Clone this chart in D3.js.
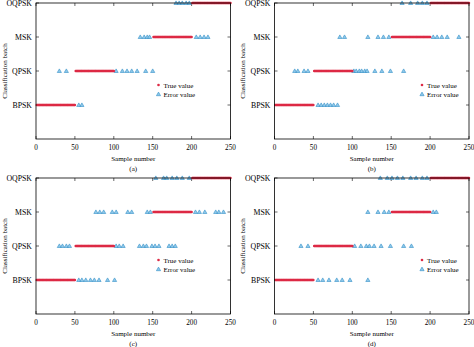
<!DOCTYPE html>
<html>
<head>
<meta charset="utf-8">
<script src="https://cdn.jsdelivr.net/npm/d3@7"></script>
<style>
  body { margin: 0; background: #fff; }
  svg { display: block; font-family: "Liberation Serif", "Times New Roman", serif; }
</style>
</head>
<body>
<svg id="chart" width="474" height="347"></svg>
<script>
// classes on the y axis, bottom to top
const classes = ["BPSK", "QPSK", "MSK", "OQPSK"];
const xTicks = [0, 50, 100, 150, 200, 250];

// correctly classified runs: [first sample, last sample, class]
const trueRuns = [[1, 50, "BPSK"], [51, 100, "QPSK"], [151, 200, "MSK"], [201, 250, "OQPSK"]];

// misclassified samples per panel
const errorsA = {
    BPSK: [55, 59],
    QPSK: [30, 39, 103, 111, 117, 123, 130, 141, 150],
    MSK: [134, 139, 143, 146, 206, 211, 216, 221],
    OQPSK: [180, 184, 188, 193, 197]
};
const errorsB = {
    BPSK: [56, 60, 64, 68, 72, 76, 81],
    QPSK: [26, 30, 38, 43, 102, 105, 109, 112, 116, 119, 129, 138, 149, 166],
    MSK: [84, 90, 120, 133, 140, 147, 204, 209, 215, 222, 237],
    OQPSK: [164, 175, 184, 190, 196]
};
const errorsC = {
    BPSK: [55, 59, 64, 70, 75, 81, 92, 101],
    QPSK: [30, 34, 39, 43, 103, 107, 112, 133, 138, 142, 149, 153, 158, 171, 175, 179],
    MSK: [77, 82, 87, 98, 103, 118, 123, 143, 147, 205, 210, 217, 231, 235, 241],
    OQPSK: [154, 164, 168, 175, 181, 188, 197]
};
const errorsD = {
    BPSK: [56, 62, 70, 80, 87, 97, 120],
    QPSK: [34, 43, 103, 111, 118, 122, 128, 137, 149, 166, 176],
    MSK: [120, 133, 141, 147, 204, 208],
    OQPSK: [136, 145, 151, 158, 165, 175, 182, 190, 196]
};

const legendLabels = ["True value", "Error value"];
const captions = ["(a)", "(b)", "(c)", "(d)"];

// panel layout
const panels = [
    { errors: errorsA, x0: 36, x1: 230.5, top: 3, bottom: 139, yl: 6.5, legX: 158.5 },
    { errors: errorsB, x0: 274.5, x1: 469, top: 3, bottom: 139, yl: 245, legX: 422 },
    { errors: errorsC, x0: 36, x1: 230.5, top: 178, bottom: 314, yl: 6.5, legX: 158.5 },
    { errors: errorsD, x0: 274.5, x1: 469, top: 178, bottom: 314, yl: 245, legX: 422 }
];

const red = "#dd2a45";
const blueFill = "#8ec8ea";
const blueStroke = "#3490c8";

const svg = d3.select("svg#chart");
const triangle = d3.symbol().type(d3.symbolTriangle).size(7.5);

const truePoints = trueRuns.flatMap(([a, b, c]) => d3.range(a, b + 1).map(s => ({ s, c })));

panels.forEach((p, i) => {
    const x = d3.scaleLinear().domain([0, 250]).range([p.x0, p.x1]);
    const y = d3.scaleLinear().domain([0, 4]).range([p.bottom, p.top]);
    const yVal = c => classes.indexOf(c) + 1;
    const g = svg.append("g");

    // ticks (inward, all four sides)
    const tl = 3;
    const ticks = g.append("g").attr("stroke", "#000").attr("stroke-width", 0.6);
    xTicks.forEach(t => {
        ticks.append("line").attr("x1", x(t)).attr("x2", x(t)).attr("y1", p.bottom).attr("y2", p.bottom - tl);
        ticks.append("line").attr("x1", x(t)).attr("x2", x(t)).attr("y1", p.top).attr("y2", p.top + tl);
    });
    classes.forEach(c => {
        ticks.append("line").attr("x1", p.x0).attr("x2", p.x0 + tl).attr("y1", y(yVal(c))).attr("y2", y(yVal(c)));
        ticks.append("line").attr("x1", p.x1).attr("x2", p.x1 - tl).attr("y1", y(yVal(c))).attr("y2", y(yVal(c)));
    });

    // error markers
    const errPts = classes.flatMap(c => p.errors[c].map(s => ({ s, c })));
    g.append("g").selectAll("path")
        .data(errPts)
        .join("path")
        .attr("d", triangle)
        .attr("transform", d => `translate(${x(d.s)},${y(yVal(d.c)) + 0.3})`)
        .attr("fill", blueFill)
        .attr("stroke", blueStroke)
        .attr("stroke-width", 0.6);

    // true markers
    g.append("g").selectAll("circle")
        .data(truePoints)
        .join("circle")
        .attr("cx", d => x(d.s))
        .attr("cy", d => y(yVal(d.c)))
        .attr("r", 1.25)
        .attr("fill", red);

    // frame
    g.append("rect")
        .attr("x", p.x0).attr("y", p.top)
        .attr("width", p.x1 - p.x0).attr("height", p.bottom - p.top)
        .attr("fill", "none").attr("stroke", "#000").attr("stroke-width", 0.8);

    // tick labels
    g.append("g").selectAll("text")
        .data(xTicks)
        .join("text")
        .attr("x", d => x(d))
        .attr("y", p.bottom + 11)
        .attr("text-anchor", "middle")
        .attr("font-size", 7.2)
        .text(d => d);
    g.append("g").selectAll("text")
        .data(classes)
        .join("text")
        .attr("x", p.x0 - 4)
        .attr("y", d => y(yVal(d)) + 2.7)
        .attr("text-anchor", "end")
        .attr("font-size", 7.8)
        .text(d => d);

    // axis titles and caption
    g.append("text")
        .attr("x", (p.x0 + p.x1) / 2).attr("y", p.bottom + 21.5)
        .attr("text-anchor", "middle").attr("font-size", 7)
        .text("Sample number");
    g.append("text")
        .attr("x", (p.x0 + p.x1) / 2).attr("y", p.bottom + 31.5)
        .attr("text-anchor", "middle").attr("font-size", 7)
        .text(captions[i]);
    g.append("text")
        .attr("transform", `translate(${p.yl},${(p.top + p.bottom) / 2}) rotate(-90)`)
        .attr("text-anchor", "middle").attr("font-size", 7)
        .text("Classification batch");

    // legend
    const ly = p.top + 82;
    const leg = g.append("g");
    leg.append("circle").attr("cx", p.legX).attr("cy", ly).attr("r", 1.3).attr("fill", red);
    leg.append("path").attr("d", triangle)
        .attr("transform", `translate(${p.legX},${ly + 9.5})`)
        .attr("fill", blueFill).attr("stroke", blueStroke).attr("stroke-width", 0.6);
    legendLabels.forEach((t, k) => {
        leg.append("text")
            .attr("x", p.legX + 5).attr("y", ly + 2.5 + k * 9.5)
            .attr("font-size", 7)
            .text(t);
    });
});
</script>
</body>
</html>
